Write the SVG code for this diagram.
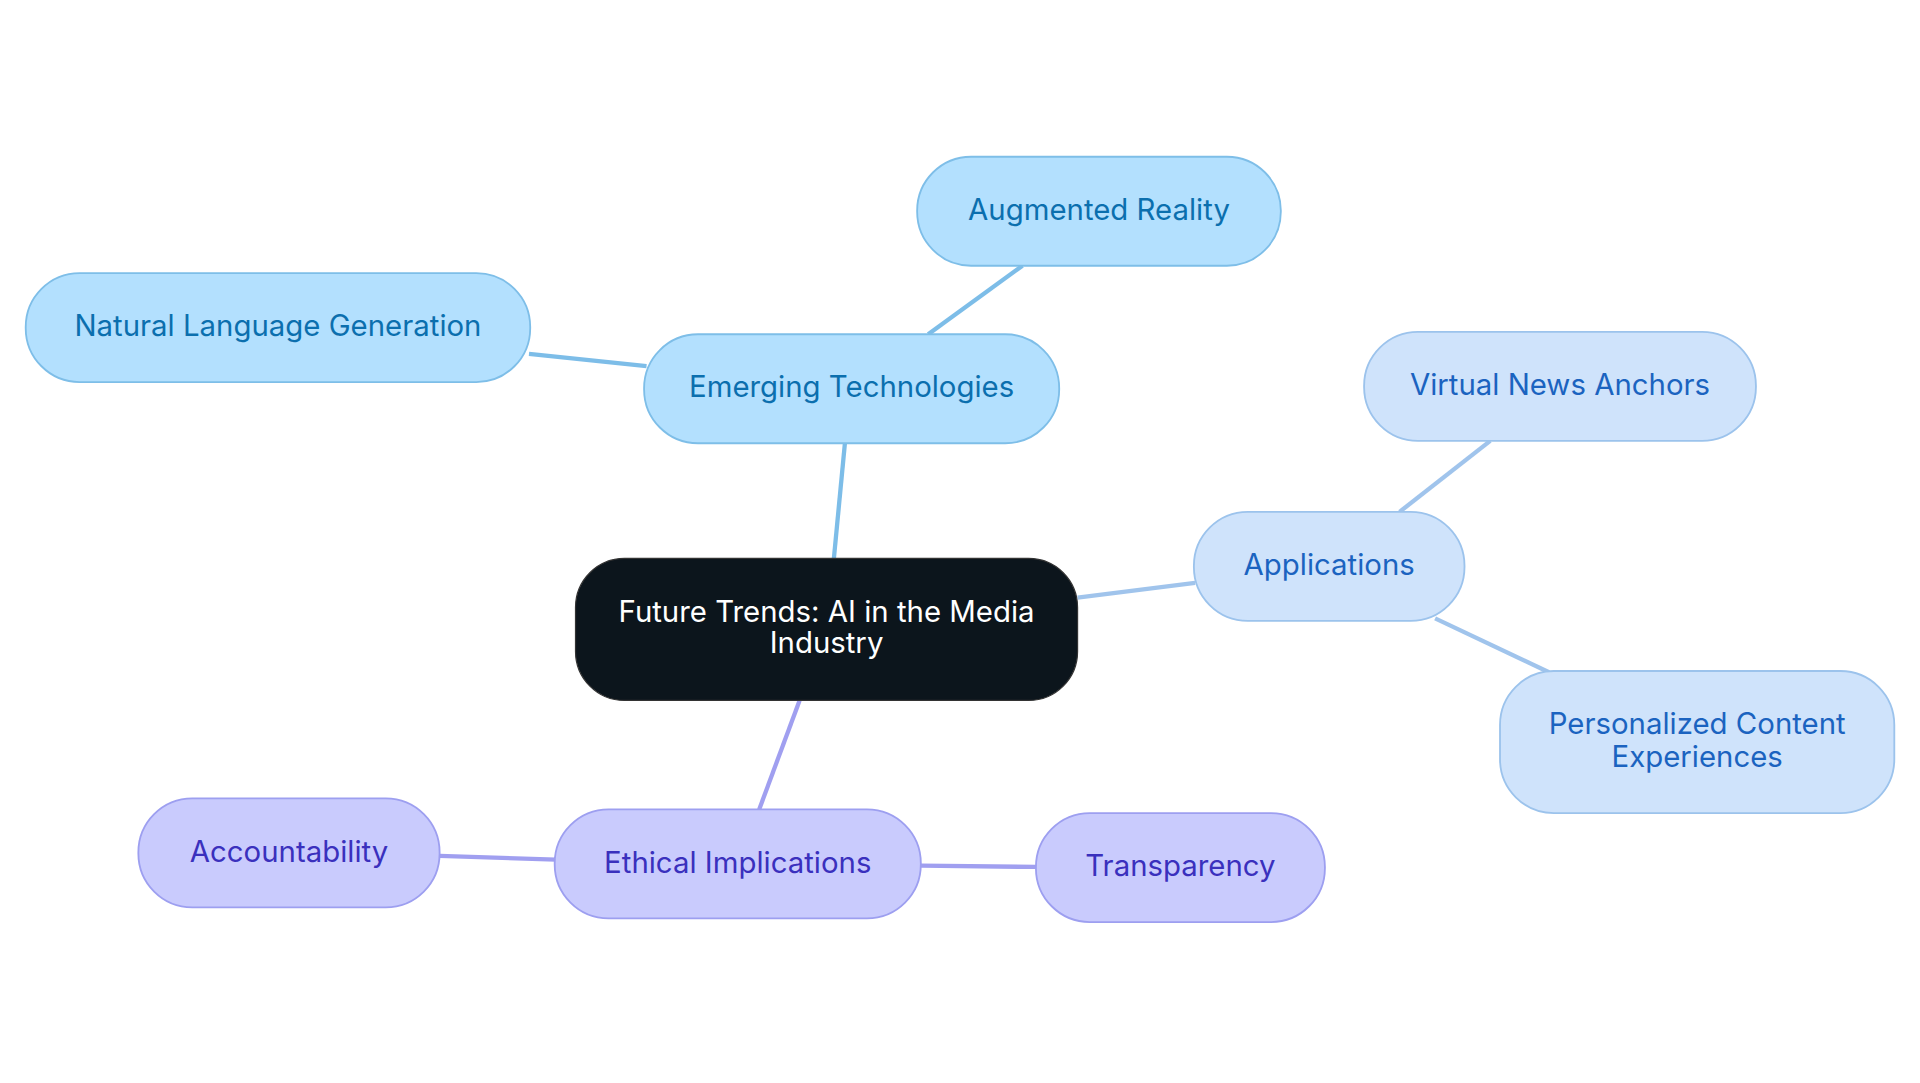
<svg xmlns="http://www.w3.org/2000/svg" width="1920" height="1083" viewBox="0 0 1920 1083">
<style>
text{font-family:Inter,"Noto Sans","Liberation Sans",sans-serif;font-size:24px;text-anchor:middle;dominant-baseline:central}
.e rect{fill:#b3e0fe;stroke:#7ebee8;stroke-width:1.5}.e text{fill:#0b6fae}
.a rect{fill:#cfe3fb;stroke:#9cc3ec;stroke-width:1.5}.a text{fill:#1b63c0}
.i rect{fill:#c9cbfd;stroke:#9d9ff0;stroke-width:1.5}.i text{fill:#3a30bd}
#conn line{stroke-width:3.5;fill:none}
</style>
<rect width="1920" height="1083" fill="#fff"/>
<g transform="scale(1.2245)">
<g id="conn">
<g stroke="#7dbde8"><line x1="681" y1="456" x2="690" y2="362"/><line x1="758" y1="273" x2="835" y2="217"/><line x1="528" y1="299" x2="432" y2="289"/></g>
<g stroke="#a0c4ec"><line x1="880" y1="488" x2="976" y2="476"/><line x1="1143" y1="418" x2="1217" y2="360"/><line x1="1172" y1="505" x2="1265" y2="549"/></g>
<g stroke="#a09ff0"><line x1="653" y1="572" x2="620" y2="661"/><line x1="454" y1="702" x2="359" y2="699"/><line x1="752" y1="707" x2="846" y2="708"/></g>
</g>
<g id="center"><rect x="470" y="456" width="410" height="116" rx="40" fill="#0c151c" stroke="#333" stroke-width="1"/><text x="675" y="499" fill="#fff">Future Trends: AI in the Media</text><text x="675" y="525" fill="#fff">Industry</text></g>
<g id="emerging" class="e"><rect x="526" y="273" width="339" height="89" rx="44"/><text x="695.5" y="316">Emerging Technologies</text></g>
<g id="ar" class="e"><rect x="749" y="128" width="297" height="89" rx="44"/><text x="897.5" y="171">Augmented Reality</text></g>
<g id="nlg" class="e"><rect x="21" y="223" width="412" height="89" rx="44"/><text x="227" y="266">Natural Language Generation</text></g>
<g id="apps" class="a"><rect x="975" y="418" width="221" height="89" rx="44"/><text x="1085.5" y="461">Applications</text></g>
<g id="vna" class="a"><rect x="1114" y="271" width="320" height="89" rx="44"/><text x="1274" y="314">Virtual News Anchors</text></g>
<g id="pce" class="a"><rect x="1225" y="548" width="322" height="116" rx="44"/><text x="1386" y="591">Personalized Content</text><text x="1386" y="618">Experiences</text></g>
<g id="ethical" class="i"><rect x="453" y="661" width="299" height="89" rx="44"/><text x="602.5" y="704">Ethical Implications</text></g>
<g id="acc" class="i"><rect x="113" y="652" width="246" height="89" rx="44"/><text x="236" y="695">Accountability</text></g>
<g id="trans" class="i"><rect x="846" y="664" width="236" height="89" rx="44"/><text x="964" y="707">Transparency</text></g>
</g>
</svg>
